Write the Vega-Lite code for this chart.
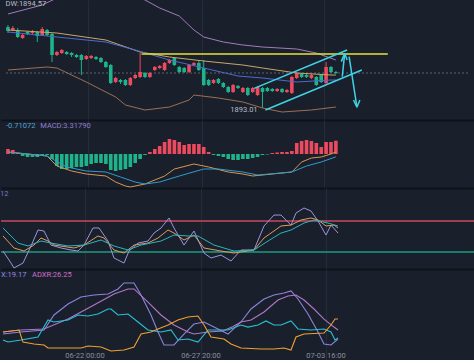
{
"$schema":"https://vega.github.io/schema/vega-lite/v6.json",
"background":"#1a1f2c","padding":0,"spacing":0,
"config":{"view":{"stroke":null},"text":{"font":"Roboto"}},
"resolve":{"scale":{"color":"independent"}},
"datasets":{
"candles":[
{"i":0,"o":1933.5,"h":1934.5,"l":1930.5,"c":1931.5},{"i":1,"o":1932,"h":1934,"l":1931.5,"c":1933},{"i":2,"o":1932,"h":1933,"l":1928,"c":1928.5},{"i":3,"o":1928,"h":1930,"l":1927.5,"c":1929.5},{"i":4,"o":1931,"h":1931.5,"l":1929.5,"c":1930},{"i":5,"o":1930.5,"h":1932,"l":1930,"c":1931.5},{"i":6,"o":1931,"h":1931.5,"l":1926,"c":1929},{"i":7,"o":1929.5,"h":1933.5,"l":1929,"c":1932.5},{"i":8,"o":1932,"h":1932.5,"l":1929,"c":1929.5},{"i":9,"o":1930,"h":1930.5,"l":1916,"c":1919.5},
{"i":10,"o":1919.5,"h":1921.5,"l":1919,"c":1921},{"i":11,"o":1920.5,"h":1922.5,"l":1920,"c":1922},{"i":12,"o":1921,"h":1921.5,"l":1919.5,"c":1920},{"i":13,"o":1920.5,"h":1921,"l":1918.5,"c":1919.5},{"i":14,"o":1919.5,"h":1920,"l":1918,"c":1918.5},{"i":15,"o":1919.5,"h":1920,"l":1909.5,"c":1917},{"i":16,"o":1917.5,"h":1919.5,"l":1917,"c":1919},{"i":17,"o":1918,"h":1919.5,"l":1917.5,"c":1919},{"i":18,"o":1918.5,"h":1919,"l":1917,"c":1917.5},{"i":19,"o":1918,"h":1918.5,"l":1915.5,"c":1916},
{"i":20,"o":1916,"h":1916.5,"l":1913,"c":1913.5},{"i":21,"o":1914.5,"h":1915,"l":1905,"c":1905.5},{"i":22,"o":1906,"h":1908.5,"l":1905.5,"c":1908},{"i":23,"o":1907,"h":1907.5,"l":1905,"c":1906},{"i":24,"o":1907,"h":1907.5,"l":1904,"c":1904.5},{"i":25,"o":1904.5,"h":1908.5,"l":1904,"c":1908},{"i":26,"o":1908,"h":1910,"l":1907.5,"c":1909.5},{"i":27,"o":1908.5,"h":1920.5,"l":1908,"c":1911},{"i":28,"o":1910.5,"h":1911,"l":1908,"c":1908.5},{"i":29,"o":1908.5,"h":1911,"l":1908,"c":1910.5},
{"i":30,"o":1912,"h":1914,"l":1911.5,"c":1913.5},{"i":31,"o":1913,"h":1914.5,"l":1912.5,"c":1914},{"i":32,"o":1912,"h":1916,"l":1911.5,"c":1915.5},{"i":33,"o":1915.5,"h":1917.5,"l":1915,"c":1917},{"i":34,"o":1918,"h":1918.5,"l":1914,"c":1914.5},{"i":35,"o":1913.5,"h":1914,"l":1910.5,"c":1911},{"i":36,"o":1913,"h":1913.5,"l":1910.5,"c":1911},{"i":37,"o":1911,"h":1915,"l":1910.5,"c":1914.5},{"i":38,"o":1914.5,"h":1916,"l":1914,"c":1915.5},{"i":39,"o":1915.5,"h":1917,"l":1911.5,"c":1912},
{"i":40,"o":1913,"h":1917,"l":1904,"c":1904.5},{"i":41,"o":1907,"h":1907.5,"l":1904,"c":1904.5},{"i":42,"o":1905.5,"h":1907.5,"l":1905,"c":1907},{"i":43,"o":1907.5,"h":1908,"l":1905,"c":1905.5},{"i":44,"o":1905.5,"h":1906,"l":1903,"c":1903.5},{"i":45,"o":1903.5,"h":1904,"l":1900.5,"c":1901},{"i":46,"o":1901,"h":1905,"l":1900.5,"c":1904.5},{"i":47,"o":1904,"h":1904.5,"l":1902.5,"c":1903},{"i":48,"o":1901,"h":1903.5,"l":1900.5,"c":1903},{"i":49,"o":1903,"h":1903.5,"l":1899,"c":1899.5},
{"i":50,"o":1901,"h":1903.5,"l":1900.5,"c":1903},{"i":51,"o":1899.5,"h":1904,"l":1899,"c":1903.5},{"i":52,"o":1903,"h":1903.5,"l":1893.01,"c":1901},{"i":53,"o":1903,"h":1903.5,"l":1901,"c":1901.5},{"i":54,"o":1902.5,"h":1903,"l":1901,"c":1901.5},{"i":55,"o":1901.5,"h":1903,"l":1901,"c":1902.5},{"i":56,"o":1902.5,"h":1903,"l":1900.5,"c":1901},{"i":57,"o":1901,"h":1902.5,"l":1900.5,"c":1902},{"i":58,"o":1900.5,"h":1909,"l":1900,"c":1908.5},{"i":59,"o":1908,"h":1911,"l":1907.5,"c":1910.5},
{"i":60,"o":1910,"h":1910.5,"l":1908,"c":1908.5},{"i":61,"o":1909.5,"h":1910,"l":1908,"c":1908.5},{"i":62,"o":1908,"h":1910,"l":1907.5,"c":1909.5},{"i":63,"o":1908.5,"h":1909,"l":1904,"c":1904.5},{"i":64,"o":1909.5,"h":1910,"l":1905.5,"c":1906},{"i":65,"o":1905.5,"h":1916,"l":1905,"c":1913.5},{"i":66,"o":1913.5,"h":1914,"l":1910.5,"c":1911},{"i":67,"o":1911,"h":1911.5,"l":1910,"c":1910.5}
],
"macd":[
{"i":0,"m":1.25},{"i":1,"m":1},{"i":2,"m":0.25},{"i":3,"m":-0.5},{"i":4,"m":-0.75},{"i":5,"m":-0.75},{"i":6,"m":-0.75},{"i":7,"m":-0.5},{"i":8,"m":-0.25},{"i":9,"m":-1.25},
{"i":10,"m":-3},{"i":11,"m":-3.75},{"i":12,"m":-3.75},{"i":13,"m":-3.5},{"i":14,"m":-3.25},{"i":15,"m":-3.25},{"i":16,"m":-3},{"i":17,"m":-2.5},{"i":18,"m":-2.25},{"i":19,"m":-2.25},
{"i":20,"m":-2.5},{"i":21,"m":-4},{"i":22,"m":-4.25},{"i":23,"m":-4},{"i":24,"m":-3.75},{"i":25,"m":-3.25},{"i":26,"m":-2.25},{"i":27,"m":-1.25},{"i":28,"m":-0.25},{"i":29,"m":0.5},
{"i":30,"m":1.25},{"i":31,"m":2},{"i":32,"m":3},{"i":33,"m":3.75},{"i":34,"m":3.5},{"i":35,"m":3},{"i":36,"m":2.25},{"i":37,"m":2.5},{"i":38,"m":2.5},{"i":39,"m":2.5},
{"i":40,"m":1.75},{"i":41,"m":0.5},{"i":42,"m":-0.25},{"i":43,"m":-0.5},{"i":44,"m":-0.75},{"i":45,"m":-1.25},{"i":46,"m":-1.5},{"i":47,"m":-1.5},{"i":48,"m":-1.25},{"i":49,"m":-1.25},
{"i":50,"m":-1},{"i":51,"m":-0.75},{"i":52,"m":-0.25},{"i":53,"m":-0.12},{"i":54,"m":0.25},{"i":55,"m":0.38},{"i":56,"m":0.5},{"i":57,"m":0.5},{"i":58,"m":0.75},{"i":59,"m":2.75},
{"i":60,"m":3.25},{"i":61,"m":3.5},{"i":62,"m":3.25},{"i":63,"m":2.75},{"i":64,"m":1.75},{"i":65,"m":3},{"i":66,"m":3},{"i":67,"m":3.32}
],
"pl":[
{"s":"ma1","i":0,"v":1932},{"s":"ma1","i":10,"v":1930.5},{"s":"ma1","i":20,"v":1927},{"s":"ma1","i":27,"v":1921},{"s":"ma1","i":33,"v":1918.5},{"s":"ma1","i":40,"v":1916.5},{"s":"ma1","i":48,"v":1914.5},{"s":"ma1","i":52,"v":1913},{"s":"ma1","i":59,"v":1910.5},{"s":"ma1","i":66,"v":1909.5},{"s":"ma1","i":67,"v":1909.5},
{"s":"ma2","i":0,"v":1931},{"s":"ma2","i":10,"v":1928.5},{"s":"ma2","i":20,"v":1926},{"s":"ma2","i":26,"v":1922},{"s":"ma2","i":33,"v":1917},{"s":"ma2","i":40,"v":1913},{"s":"ma2","i":47,"v":1909},{"s":"ma2","i":52,"v":1908},{"s":"ma2","i":59,"v":1906},{"s":"ma2","i":66,"v":1907},{"s":"ma2","i":67,"v":1907},
{"s":"up","i":0,"v":1940},{"s":"up","i":7,"v":1944.5},{"s":"up","i":10,"v":1948},{"s":"up","i":14,"v":1952},{"s":"up","i":20,"v":1953},{"s":"up","i":25,"v":1950},{"s":"up","i":28,"v":1947},{"s":"up","i":31,"v":1943},{"s":"up","i":35,"v":1939},{"s":"up","i":38,"v":1932},{"s":"up","i":40,"v":1928.5},{"s":"up","i":44,"v":1926},{"s":"up","i":48,"v":1924.5},{"s":"up","i":52,"v":1923.5},{"s":"up","i":59,"v":1922.5},{"s":"up","i":63,"v":1920.5},{"s":"up","i":67,"v":1917},
{"s":"dn","i":0,"v":1912},{"s":"dn","i":8,"v":1913.5},{"s":"dn","i":10,"v":1913},{"s":"dn","i":16,"v":1906},{"s":"dn","i":22,"v":1898.5},{"s":"dn","i":24,"v":1894.5},{"s":"dn","i":28,"v":1892},{"s":"dn","i":33,"v":1893.5},{"s":"dn","i":37,"v":1897},{"s":"dn","i":38,"v":1899.5},{"s":"dn","i":43,"v":1898},{"s":"dn","i":48,"v":1896},{"s":"dn","i":52,"v":1893},{"s":"dn","i":56,"v":1891},{"s":"dn","i":62,"v":1892},{"s":"dn","i":67,"v":1893.5}
],
"ml":[
{"s":"dif","i":0,"v":0.5},{"s":"dif","i":8,"v":-0.5},{"s":"dif","i":10,"v":-3},{"s":"dif","i":13,"v":-4.25},{"s":"dif","i":16,"v":-5},{"s":"dif","i":20,"v":-5.5},{"s":"dif","i":22,"v":-7},{"s":"dif","i":24,"v":-8},{"s":"dif","i":25,"v":-8.25},{"s":"dif","i":28,"v":-7.5},{"s":"dif","i":32,"v":-5.5},{"s":"dif","i":34,"v":-3.75},{"s":"dif","i":38,"v":-2.5},{"s":"dif","i":41,"v":-3.25},{"s":"dif","i":45,"v":-4.5},{"s":"dif","i":48,"v":-5},{"s":"dif","i":50,"v":-5.5},{"s":"dif","i":54,"v":-5},{"s":"dif","i":58,"v":-4.5},{"s":"dif","i":60,"v":-2},{"s":"dif","i":62,"v":-1},{"s":"dif","i":64,"v":-0.75},{"s":"dif","i":66,"v":0},{"s":"dif","i":67,"v":0.5},
{"s":"dea","i":0,"v":0.5},{"s":"dea","i":8,"v":-0.5},{"s":"dea","i":12,"v":-3.25},{"s":"dea","i":16,"v":-4.25},{"s":"dea","i":20,"v":-4.5},{"s":"dea","i":23,"v":-5.75},{"s":"dea","i":26,"v":-7},{"s":"dea","i":28,"v":-7.5},{"s":"dea","i":31,"v":-7},{"s":"dea","i":35,"v":-5.5},{"s":"dea","i":40,"v":-3.75},{"s":"dea","i":43,"v":-3.75},{"s":"dea","i":48,"v":-4.5},{"s":"dea","i":51,"v":-5.25},{"s":"dea","i":58,"v":-4.5},{"s":"dea","i":61,"v":-3},{"s":"dea","i":64,"v":-2},{"s":"dea","i":67,"v":-0.71}
],
"rl":[
{"s":"r6","i":0,"v":31.3},{"s":"r6","i":1.6,"v":15.8},{"s":"r6","i":2.2,"v":9.4},{"s":"r6","i":4,"v":15.8},{"s":"r6","i":5.6,"v":37.8},{"s":"r6","i":7,"v":58.4},{"s":"r6","i":8.2,"v":57.1},{"s":"r6","i":9.6,"v":39},{"s":"r6","i":11.6,"v":35.2},{"s":"r6","i":13.6,"v":32.6},{"s":"r6","i":15,"v":31.3},{"s":"r6","i":16.2,"v":39},{"s":"r6","i":18,"v":61},{"s":"r6","i":19.2,"v":61},{"s":"r6","i":21,"v":44.2},{"s":"r6","i":22.2,"v":22.3},{"s":"r6","i":24.2,"v":15.8},{"s":"r6","i":25.2,"v":31.3},{"s":"r6","i":27,"v":41.6},{"s":"r6","i":29,"v":44.2},{"s":"r6","i":30.2,"v":54.5},{"s":"r6","i":31.6,"v":61},{"s":"r6","i":33.2,"v":73.9},{"s":"r6","i":34.2,"v":61},{"s":"r6","i":36.2,"v":39},{"s":"r6","i":38.2,"v":57.1},{"s":"r6","i":40.2,"v":28.7},{"s":"r6","i":41.6,"v":22.3},{"s":"r6","i":43.6,"v":26.1},{"s":"r6","i":45.6,"v":18.4},{"s":"r6","i":47.6,"v":32.6},{"s":"r6","i":50.2,"v":32.6},{"s":"r6","i":52.2,"v":63.6},{"s":"r6","i":54.2,"v":77.7},{"s":"r6","i":55.6,"v":77.7},{"s":"r6","i":57.6,"v":64.8},{"s":"r6","i":58.6,"v":80.3},{"s":"r6","i":60.2,"v":86.8},{"s":"r6","i":61.6,"v":82.9},{"s":"r6","i":63,"v":70},{"s":"r6","i":64.6,"v":51.9},{"s":"r6","i":65.6,"v":64.8},{"s":"r6","i":67,"v":54.5},
{"s":"r12","i":0,"v":50.7},{"s":"r12","i":2.2,"v":35.2},{"s":"r12","i":4.2,"v":31.3},{"s":"r12","i":6.2,"v":39},{"s":"r12","i":7.6,"v":48.1},{"s":"r12","i":9,"v":44.2},{"s":"r12","i":10.2,"v":39},{"s":"r12","i":14.2,"v":35.2},{"s":"r12","i":16.2,"v":39},{"s":"r12","i":19,"v":50.7},{"s":"r12","i":20.2,"v":48.1},{"s":"r12","i":22.2,"v":32.6},{"s":"r12","i":24.2,"v":28.7},{"s":"r12","i":26.2,"v":39},{"s":"r12","i":29,"v":41.6},{"s":"r12","i":31,"v":48.1},{"s":"r12","i":33,"v":58.4},{"s":"r12","i":34.2,"v":54.5},{"s":"r12","i":36.2,"v":45.5},{"s":"r12","i":38.2,"v":51.9},{"s":"r12","i":40.2,"v":35.2},{"s":"r12","i":43.6,"v":31.3},{"s":"r12","i":46.2,"v":28.7},{"s":"r12","i":50.2,"v":32.6},{"s":"r12","i":52.2,"v":48.1},{"s":"r12","i":55.6,"v":63.6},{"s":"r12","i":57.6,"v":64.8},{"s":"r12","i":59.6,"v":71.3},{"s":"r12","i":61.6,"v":73.9},{"s":"r12","i":63,"v":71.3},{"s":"r12","i":64.6,"v":63.6},{"s":"r12","i":66.2,"v":64.8},{"s":"r12","i":67,"v":61},
{"s":"r24","i":0,"v":61},{"s":"r24","i":3,"v":41.6},{"s":"r24","i":5,"v":37.8},{"s":"r24","i":7.6,"v":44.2},{"s":"r24","i":9.6,"v":41.6},{"s":"r24","i":13,"v":37.8},{"s":"r24","i":16.2,"v":39},{"s":"r24","i":19.6,"v":45.5},{"s":"r24","i":22.2,"v":37.8},{"s":"r24","i":25,"v":32.6},{"s":"r24","i":27.6,"v":39},{"s":"r24","i":31.6,"v":44.2},{"s":"r24","i":34.2,"v":51.9},{"s":"r24","i":37,"v":50.7},{"s":"r24","i":39,"v":50.7},{"s":"r24","i":42.2,"v":39},{"s":"r24","i":46.2,"v":31.3},{"s":"r24","i":50.2,"v":32.6},{"s":"r24","i":53,"v":44.2},{"s":"r24","i":55.6,"v":54.5},{"s":"r24","i":57.6,"v":58.4},{"s":"r24","i":60.2,"v":67.4},{"s":"r24","i":62.2,"v":71.3},{"s":"r24","i":65,"v":67.4},{"s":"r24","i":67,"v":63.6}
],
"dl":[
{"s":"adx","i":0,"v":23.1},{"s":"adx","i":3.6,"v":24.7},{"s":"adx","i":8.2,"v":26.3},{"s":"adx","i":10.2,"v":38.1},{"s":"adx","i":13,"v":46.7},{"s":"adx","i":15.6,"v":52.3},{"s":"adx","i":18.2,"v":53.8},{"s":"adx","i":21,"v":54.6},{"s":"adx","i":23,"v":58.6},{"s":"adx","i":24.2,"v":63.3},{"s":"adx","i":26.2,"v":63.3},{"s":"adx","i":27.6,"v":53.8},{"s":"adx","i":29.6,"v":38.1},{"s":"adx","i":31,"v":24.7},{"s":"adx","i":32.2,"v":14.5},{"s":"adx","i":34.2,"v":14.5},{"s":"adx","i":36.2,"v":23.1},{"s":"adx","i":38.2,"v":31},{"s":"adx","i":40.2,"v":32.6},{"s":"adx","i":42.2,"v":28.6},{"s":"adx","i":45,"v":23.1},{"s":"adx","i":47.6,"v":32.6},{"s":"adx","i":49.6,"v":42.8},{"s":"adx","i":52.2,"v":50.7},{"s":"adx","i":54.2,"v":53.8},{"s":"adx","i":56.2,"v":55.4},{"s":"adx","i":57.6,"v":57},{"s":"adx","i":59,"v":50.7},{"s":"adx","i":61,"v":38.9},{"s":"adx","i":63,"v":24.7},{"s":"adx","i":64.2,"v":15.3},{"s":"adx","i":65.6,"v":14.5},{"s":"adx","i":67,"v":19.17},
{"s":"adxr","i":0,"v":24.7},{"s":"adxr","i":3.6,"v":26.3},{"s":"adxr","i":8.2,"v":27.1},{"s":"adxr","i":13,"v":34.9},{"s":"adxr","i":18.2,"v":46},{"s":"adxr","i":22.2,"v":54.6},{"s":"adxr","i":25,"v":58.6},{"s":"adxr","i":26.2,"v":58.6},{"s":"adxr","i":29,"v":48.3},{"s":"adxr","i":31.6,"v":38.1},{"s":"adxr","i":34.2,"v":30.2},{"s":"adxr","i":37,"v":24.7},{"s":"adxr","i":38.2,"v":23.1},{"s":"adxr","i":41,"v":24.7},{"s":"adxr","i":44,"v":25.5},{"s":"adxr","i":46,"v":29},{"s":"adxr","i":47.6,"v":32.6},{"s":"adxr","i":49.6,"v":34.2},{"s":"adxr","i":52.2,"v":40.5},{"s":"adxr","i":55,"v":49.9},{"s":"adxr","i":57,"v":53},{"s":"adxr","i":58.6,"v":53.8},{"s":"adxr","i":60.2,"v":49.9},{"s":"adxr","i":62.2,"v":42.8},{"s":"adxr","i":64.2,"v":34.9},{"s":"adxr","i":66.2,"v":28.6},{"s":"adxr","i":67,"v":26.25},
{"s":"pdi","i":0,"v":18.4},{"s":"pdi","i":1,"v":16.8},{"s":"pdi","i":3.6,"v":18.4},{"s":"pdi","i":7,"v":20.8},{"s":"pdi","i":9,"v":34.2},{"s":"pdi","i":10.2,"v":32.6},{"s":"pdi","i":13,"v":34.2},{"s":"pdi","i":15,"v":38.1},{"s":"pdi","i":17,"v":37.3},{"s":"pdi","i":19,"v":38.9},{"s":"pdi","i":21,"v":42.8},{"s":"pdi","i":21.6,"v":42.8},{"s":"pdi","i":23,"v":38.1},{"s":"pdi","i":25,"v":38.9},{"s":"pdi","i":27,"v":32.6},{"s":"pdi","i":29,"v":26.3},{"s":"pdi","i":31.6,"v":24.7},{"s":"pdi","i":33.6,"v":26.3},{"s":"pdi","i":35,"v":18.4},{"s":"pdi","i":37,"v":19.2},{"s":"pdi","i":39,"v":16.8},{"s":"pdi","i":41,"v":26.3},{"s":"pdi","i":45,"v":26.3},{"s":"pdi","i":47.6,"v":30.2},{"s":"pdi","i":49,"v":28.6},{"s":"pdi","i":51,"v":30.2},{"s":"pdi","i":52.6,"v":33.4},{"s":"pdi","i":54.2,"v":30.2},{"s":"pdi","i":55.6,"v":30.2},{"s":"pdi","i":57.6,"v":33.4},{"s":"pdi","i":59,"v":27.1},{"s":"pdi","i":61.6,"v":26.3},{"s":"pdi","i":64.2,"v":27.1},{"s":"pdi","i":65.6,"v":24.7},{"s":"pdi","i":66.4,"v":18.4},{"s":"pdi","i":67,"v":20},
{"s":"mdi","i":0,"v":24.7},{"s":"mdi","i":3.2,"v":26.3},{"s":"mdi","i":4,"v":16.8},{"s":"mdi","i":6.2,"v":15.3},{"s":"mdi","i":8.2,"v":14.5},{"s":"mdi","i":9,"v":12.1},{"s":"mdi","i":15.6,"v":12.1},{"s":"mdi","i":17,"v":13.7},{"s":"mdi","i":19.6,"v":12.9},{"s":"mdi","i":21.6,"v":9.8},{"s":"mdi","i":24.2,"v":10.5},{"s":"mdi","i":26.2,"v":12.9},{"s":"mdi","i":27.6,"v":23.1},{"s":"mdi","i":29.6,"v":24.7},{"s":"mdi","i":31,"v":27.1},{"s":"mdi","i":33,"v":30.2},{"s":"mdi","i":35,"v":34.2},{"s":"mdi","i":37,"v":36.5},{"s":"mdi","i":39,"v":37.3},{"s":"mdi","i":40.2,"v":30.2},{"s":"mdi","i":41.6,"v":20.8},{"s":"mdi","i":44.2,"v":19.2},{"s":"mdi","i":45.6,"v":15.3},{"s":"mdi","i":47.6,"v":12.1},{"s":"mdi","i":51.6,"v":11.3},{"s":"mdi","i":54.2,"v":11.3},{"s":"mdi","i":56.2,"v":12.1},{"s":"mdi","i":57.6,"v":10.5},{"s":"mdi","i":58.6,"v":20.8},{"s":"mdi","i":60.2,"v":23.1},{"s":"mdi","i":64.2,"v":23.9},{"s":"mdi","i":65.6,"v":30.2},{"s":"mdi","i":66.4,"v":34.9},{"s":"mdi","i":67,"v":34.9}
],
"cyan":[
{"i":50.3,"p":1902.8,"i2":69.3,"p2":1922},{"i":52.6,"p":1892,"i2":72.3,"p2":1912},
{"i":68.3,"p":1908.7,"i2":68.8,"p2":1920.3},{"i":68.1,"p":1916.2,"i2":68.8,"p2":1920.3},{"i":69.3,"p":1917,"i2":68.8,"p2":1920.3},
{"i":69.7,"p":1918.7,"i2":71.3,"p2":1893.4},{"i":70.6,"p":1897,"i2":71.3,"p2":1893.4},{"i":71.9,"p":1897,"i2":71.3,"p2":1893.4}
]
},
"vconcat":[
{"width":474,"height":120,
 "encoding":{"x":{"field":"i","type":"quantitative","scale":{"domain":[-0.4,94.4],"nice":false,"zero":false},"axis":{"orient":"bottom","values":[16.4,39.6,64.6],"grid":true,"gridColor":"#262c3a","labels":false,"ticks":false,"domain":true,"domainColor":"#0f1219","domainWidth":2,"title":null}}},
 "layer":[
  {"data":{"values":[{"i":-0.4,"i2":94.4,"p":1910.5}]},"mark":{"type":"rule","color":"#5c6371","strokeDash":[2,2],"strokeWidth":1},
   "encoding":{"x2":{"field":"i2"},"y":{"field":"p","type":"quantitative","scale":{"domain":[1887,1947],"nice":false,"zero":false},"axis":{"values":[1933,1917.5,1902],"grid":true,"gridColor":"#222836","labels":false,"ticks":false,"domain":false,"title":null}}}},
  {"data":{"name":"candles"},"mark":{"type":"rule","strokeWidth":1},
   "encoding":{"y":{"field":"l","type":"quantitative","scale":{"domain":[1887,1947],"nice":false,"zero":false},"axis":null},"y2":{"field":"h"},"color":{"condition":{"test":"datum.c>=datum.o","value":"#ec4a5e"},"value":"#1fb38b"}}},
  {"data":{"name":"candles"},"mark":{"type":"bar","size":3.6},
   "encoding":{"y":{"field":"o","type":"quantitative","scale":{"domain":[1887,1947],"nice":false,"zero":false},"axis":null},"y2":{"field":"c"},"color":{"condition":{"test":"datum.c>=datum.o","value":"#ec4a5e"},"value":"#1fb38b"}}},
  {"data":{"name":"pl"},"mark":{"type":"line","strokeWidth":1,"clip":true},
   "encoding":{"y":{"field":"v","type":"quantitative","scale":{"domain":[1887,1947],"nice":false,"zero":false},"axis":null},"color":{"field":"s","type":"nominal","scale":{"domain":["ma1","ma2","up","dn"],"range":["#c9a765","#4c6bd0","#a07cba","#9b7052"]},"legend":null}}},
  {"data":{"values":[{"i":27.3,"p":1920,"i2":77.6}]},"mark":{"type":"rule","color":"#e6e23a","strokeWidth":1.6},
   "encoding":{"x2":{"field":"i2"},"y":{"field":"p","type":"quantitative","scale":{"domain":[1887,1947],"nice":false,"zero":false},"axis":null}}},
  {"data":{"name":"cyan"},"mark":{"type":"rule","color":"#3fd3e6","strokeWidth":1.5},
   "encoding":{"x2":{"field":"i2"},"y":{"field":"p","type":"quantitative","scale":{"domain":[1887,1947],"nice":false,"zero":false},"axis":null},"y2":{"field":"p2"}}},
  {"data":{"values":[{"t":"DW:1894.57","i":-0.5,"p":1945}]},"mark":{"type":"text","align":"left","baseline":"middle","fontSize":7.5,"color":"#b9bdc6","clip":true},
   "encoding":{"y":{"field":"p","type":"quantitative","scale":{"domain":[1887,1947],"nice":false,"zero":false},"axis":null},"text":{"field":"t"}}},
  {"data":{"values":[{"t":"1893.01","i":51,"p":1892}]},"mark":{"type":"text","align":"right","baseline":"middle","fontSize":7.5,"color":"#b9bdc6","clip":true},
   "encoding":{"y":{"field":"p","type":"quantitative","scale":{"domain":[1887,1947],"nice":false,"zero":false},"axis":null},"text":{"field":"t"}}}
 ]},
{"width":474,"height":68,
 "encoding":{"x":{"field":"i","type":"quantitative","scale":{"domain":[-0.4,94.4],"nice":false,"zero":false},"axis":{"orient":"bottom","values":[16.4,39.6,64.6],"grid":true,"gridColor":"#262c3a","labels":false,"ticks":false,"domain":true,"domainColor":"#0f1219","domainWidth":2,"title":null}}},
 "layer":[
  {"data":{"name":"macd"},"mark":{"type":"bar","size":3.6},
   "encoding":{"y":{"field":"m","type":"quantitative","scale":{"domain":[-8.5,8.5],"nice":false,"zero":false},"axis":null},"y2":{"datum":0},"color":{"condition":{"test":"datum.m>=0","value":"#ec4a5e"},"value":"#1fb38b"}}},
  {"data":{"name":"ml"},"mark":{"type":"line","strokeWidth":1,"clip":true},
   "encoding":{"y":{"field":"v","type":"quantitative","scale":{"domain":[-8.5,8.5],"nice":false,"zero":false},"axis":null},"color":{"field":"s","type":"nominal","scale":{"domain":["dif","dea"],"range":["#d69755","#2f9ccc"]},"legend":null}}},
  {"data":{"values":[{"t":"-0.71072","i":-0.4,"v":7}]},"mark":{"type":"text","align":"left","baseline":"middle","fontSize":7.5,"color":"#4ea6d4","clip":true},
   "encoding":{"y":{"field":"v","type":"quantitative","scale":{"domain":[-8.5,8.5],"nice":false,"zero":false},"axis":null},"text":{"field":"t"}}},
  {"data":{"values":[{"t":"MACD:3.31790","i":6.6,"v":7}]},"mark":{"type":"text","align":"left","baseline":"middle","fontSize":7.5,"color":"#8e7fcf","clip":true},
   "encoding":{"y":{"field":"v","type":"quantitative","scale":{"domain":[-8.5,8.5],"nice":false,"zero":false},"axis":null},"text":{"field":"t"}}}
 ]},
{"width":474,"height":81,
 "encoding":{"x":{"field":"i","type":"quantitative","scale":{"domain":[-0.4,94.4],"nice":false,"zero":false},"axis":{"orient":"bottom","values":[16.4,39.6,64.6],"grid":true,"gridColor":"#262c3a","labels":false,"ticks":false,"domain":true,"domainColor":"#0f1219","domainWidth":2,"title":null}}},
 "layer":[
  {"data":{"values":[{"i":-0.4,"i2":94.4,"p":70},{"i":-0.4,"i2":94.4,"p":30}]},"mark":{"type":"rule","strokeWidth":1.3},
   "encoding":{"x2":{"field":"i2"},"y":{"field":"p","type":"quantitative","scale":{"domain":[8.1,112.6],"nice":false,"zero":false},"axis":null},"color":{"condition":{"test":"datum.p>50","value":"#c8485e"},"value":"#1e9c80"}}},
  {"data":{"name":"rl"},"mark":{"type":"line","strokeWidth":1,"clip":true},
   "encoding":{"y":{"field":"v","type":"quantitative","scale":{"domain":[8.1,112.6],"nice":false,"zero":false},"axis":null},"color":{"field":"s","type":"nominal","scale":{"domain":["r24","r12","r6"],"range":["#2bb3c0","#d9a05b","#9d94dc"]},"legend":null}}},
  {"data":{"values":[{"t":"12","i":-0.6,"v":104.8}]},"mark":{"type":"text","align":"left","baseline":"middle","fontSize":7.5,"color":"#7f72c8","clip":true},
   "encoding":{"y":{"field":"v","type":"quantitative","scale":{"domain":[8.1,112.6],"nice":false,"zero":false},"axis":null},"text":{"field":"t"}}}
 ]},
{"width":474,"height":91,
 "encoding":{"x":{"field":"i","type":"quantitative","scale":{"domain":[-0.4,94.4],"nice":false,"zero":false},"axis":{"orient":"bottom","values":[16.4,39.6,64.6],"grid":true,"gridColor":"#262c3a","labels":false,"ticks":false,"domain":false,"title":null}}},
 "layer":[
  {"data":{"name":"dl"},"mark":{"type":"line","strokeWidth":1.1,"clip":true},
   "encoding":{"y":{"field":"v","type":"quantitative","scale":{"domain":[2.68,74.29],"nice":false,"zero":false},"axis":null},"color":{"field":"s","type":"nominal","scale":{"domain":["pdi","mdi","adxr","adx"],"range":["#27c1d3","#f0a030","#b276c8","#8c84dc"]},"legend":null}}},
  {"data":{"values":[{"t":"X:19.17","i":-0.4,"v":69.6}]},"mark":{"type":"text","align":"left","baseline":"middle","fontSize":7.5,"color":"#958ce0","clip":true},
   "encoding":{"y":{"field":"v","type":"quantitative","scale":{"domain":[2.68,74.29],"nice":false,"zero":false},"axis":null},"text":{"field":"t"}}},
  {"data":{"values":[{"t":"ADXR:26.25","i":5.8,"v":69.6}]},"mark":{"type":"text","align":"left","baseline":"middle","fontSize":7.5,"color":"#cf6fc6","clip":true},
   "encoding":{"y":{"field":"v","type":"quantitative","scale":{"domain":[2.68,74.29],"nice":false,"zero":false},"axis":null},"text":{"field":"t"}}},
  {"data":{"values":[{"t":"06-22 00:00","i":16.4,"v":3.0},{"t":"06-27 20:00","i":39.6,"v":3.0},{"t":"07-03 16:00","i":64.6,"v":3.0}]},"mark":{"type":"text","align":"center","baseline":"bottom","fontSize":7.5,"color":"#8a8f9c","clip":true},
   "encoding":{"y":{"field":"v","type":"quantitative","scale":{"domain":[2.68,74.29],"nice":false,"zero":false},"axis":null},"text":{"field":"t"}}}
 ]}
]
}
